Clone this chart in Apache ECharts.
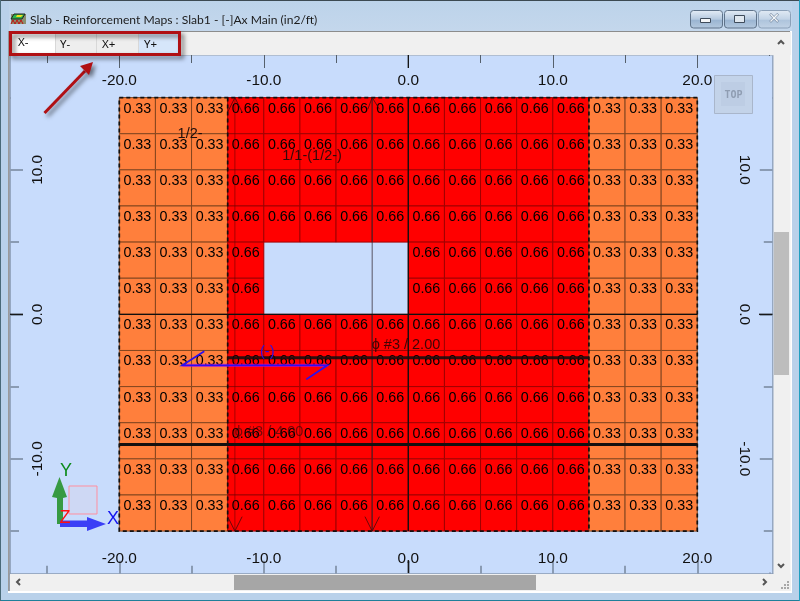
<!DOCTYPE html>
<html><head><meta charset="utf-8">
<style>html,body{margin:0;padding:0;background:#b9d1ea}#c{width:800px;height:601px}</style>
<script src="https://cdn.jsdelivr.net/npm/echarts@6/dist/echarts.min.js"></script>
</head><body><div id="c"></div>
<script>
// ---- data ----
const colEdges = [-20,-17.5,-15,-12.5,-10,-7.5,-5,-2.5,0,2.5,5,7.5,10,12.5,15,17.5,20];
const rowEdges = [15,12.5,10,7.5,5,2.5,0,-2.5,-5,-7.5,-10,-12.5,-15];
const solidRow = [0.33,0.33,0.33,0.66,0.66,0.66,0.66,0.66,0.66,0.66,0.66,0.66,0.66,0.33,0.33,0.33];
const holeRow  = [0.33,0.33,0.33,0.66,null,null,null,null,0.66,0.66,0.66,0.66,0.66,0.33,0.33,0.33];
const cellRows = [solidRow,solidRow,solidRow,solidRow,holeRow,holeRow,solidRow,solidRow,solidRow,solidRow,solidRow,solidRow];
const xTickValues = [-20,-10,0,10,20];
const yTickValues = [-10,0,10];
const dashedOutline = [[-20,15],[20,15],[20,-15],[-20,-15],[-20,15]];
const dashedLeft = [[-12.5,15],[-12.5,-15]];
const dashedRight = [[12.5,15],[12.5,-15]];
const zeroRowLine = [[-20,0],[20,0]];
const zeroColLine = [[0,15],[0,-15]];
const stripLineA = [[-12,15],[-12,-15]];
const stripLineB = [[-2.5,15],[-2.5,-15]];
const thickLineA = [[-12.5,-3],[12.5,-3]];
const thickLineB = [[-20,-9],[20,-9]];
const rebarLine = [[-14.12,-2.56],[-15.64,-3.53],[-5.6,-3.53],[-7.06,-4.5]];
const rebarGlow = [[-15.64,-3.53],[-5.6,-3.53]];
const hatTopA = [[-12.5,14],[-12,15],[-11.5,14]];
const hatTopB = [[-2.8,14.2],[-2.5,15],[-2,14.2]];
const hatBottomA = [[-12.5,-14],[-12,-15],[-11.5,-14]];
const hatBottomB = [[-3,-14],[-2.5,-15],[-2,-14]];
const annotationText = ['1/2-','1/1-(1/2-)','\u03d5 #3 / 2.00','\u03d5 #3 / 4.00','(-)'];
const annotationX = [-15.1,-6.66,-0.16,-9.63,-9.76];
const annotationY = [12.47,10.93,-2.13,-8.16,-2.63];
const annotationColor = ['rgba(20,10,10,.95)','rgba(30,10,10,.9)','rgba(30,5,5,.85)','rgba(50,10,10,.68)','#2a10e8'];
const tabLabels = ['X-','Y-','X+','Y+'];
const windowTitle = 'Slab - Reinforcement Maps : Slab1 - [-]Ax Main (in2/ft)';

// ---- styles / helpers ----
const FONT = '"Liberation Sans", Arial, sans-serif';
const cellColor = v => v > 0.5 ? '#ff0000' : '#ff7f3c';
const VIEW_BLUE = '#c8dcfc';
const cellData = [];
cellRows.forEach((row, r) => row.forEach((v, c) => {
  if (v !== null) cellData.push([colEdges[c], rowEdges[r], colEdges[c+1], rowEdges[r+1], v]);
}));

function lineSeries(points, color, width, dash, z) {
  return {type:'line', data:points, symbol:'none', silent:true, animation:false, clip:false, z:z||4,
          lineStyle:{color:color, width:width, type:dash||'solid', cap:'butt', join:'miter'}};
}
function xAxisOf(pos, offset, margin, tickColor, tickWidth, lineColor) {
  return {type:'value', min:-30, max:30, interval:10, position:pos, offset:offset,
    axisLine:{show:true, onZero:false, lineStyle:{color:lineColor, width:1.6}},
    axisTick:{show:true, inside:true, length:13, lineStyle:{color:tickColor, width:tickWidth}},
    minorTick:{show:true, splitNumber:2, length:8, lineStyle:{color:tickColor, width:tickWidth}},
    splitLine:{show:false}, minorSplitLine:{show:false},
    axisLabel:{show:true, inside:true, margin:margin, customValues:xTickValues, color:'#111',
      fontFamily:FONT, fontSize:15.4, formatter:v=>v.toFixed(1)}};
}
function yAxisOf(pos, offset, margin, rotate) {
  return {type:'value', min:-20, max:20, interval:10, position:pos, offset:offset,
    axisLine:{show:true, onZero:false, lineStyle:{color:'#8a9bb3', width:1.6}},
    axisTick:{show:true, inside:true, length:13, lineStyle:{color:'#8a9bb3', width:2}},
    minorTick:{show:true, splitNumber:2, length:9, lineStyle:{color:'#8a9bb3', width:2}},
    splitLine:{show:false}, minorSplitLine:{show:false},
    axisLabel:{show:true, inside:true, rotate:rotate, margin:margin, customValues:yTickValues, color:'#111',
      fontFamily:FONT, fontSize:15.4, formatter:v=>v.toFixed(1)}};
}
const rect = (x,y,w,h,fill,extra) => Object.assign({type:'rect', silent:true, z:100, shape:{x,y,width:w,height:h}, style:{fill}}, extra||{});
const poly = (pts,style,z) => ({type:'polyline', silent:true, z:z||101, shape:{points:pts}, style:Object.assign({fill:null},style)});
const pgon = (pts,fill,z,extra) => ({type:'polygon', silent:true, z:z||101, shape:{points:pts}, style:Object.assign({fill},extra||{})});
const txt = (x,y,t,font,fill,z,align) => ({type:'text', silent:true, z:z||102, x, y, style:{text:t, font, fill, textAlign:align||'left', textVerticalAlign:'middle', align:align||'left', verticalAlign:'middle'}});
const vGrad = (a,b,c) => ({type:'linear',x:0,y:0,x2:0,y2:1,colorStops:[{offset:0,color:a},{offset:.5,color:b},{offset:.55,color:c},{offset:1,color:b}]});

const chrome = [];
// window frame around the view
chrome.push(rect(0,0,800,31,{type:'linear',x:0,y:0,x2:0,y2:1,colorStops:[{offset:0,color:'#bcd3ea'},{offset:1,color:'#c4d7ec'}]}));
chrome.push(rect(0,0,9,601,'#b9d1ea'));
chrome.push(rect(792,0,8,601,'#b9d1ea'));
chrome.push(rect(0,593,800,8,'#b9d1ea'));
chrome.push(rect(0,0,800,1,'#3c4a52'));
chrome.push(rect(0,600,800,1,'#1f7f9a'));
chrome.push(rect(0,0,1,601,'#4a6a78'));
chrome.push(rect(799,0,1,601,'#1f9fc0'));
// client edge
chrome.push(rect(8,31,784,1.5,'#8c8c8c'));
chrome.push(rect(8,31,1.5,562,'#9a9a9a'));
chrome.push(rect(790,31,2,562,'#ffffff'));
chrome.push(rect(8,591,784,2,'#ffffff'));
// tab strip
chrome.push(rect(10,32,781,23,'#f0f0f0'));
chrome.push(rect(13,34,42,20,'#ffffff'));
chrome.push(rect(55,34,41,20,'#eeeeee'));
chrome.push(rect(96,34,42,20,'#eeeeee'));
chrome.push(rect(138,34,42,20,'#d6e6fa'));
chrome.push(rect(55,34,1,20,'#d8d8d8'));
chrome.push(rect(96,34,1,20,'#d8d8d8'));
chrome.push(rect(138,34,1,20,'#d8d8d8'));
tabLabels.forEach((t,i)=>chrome.push(txt([18,60,102,144][i],[43,45,45,45][i],t,'11.5px "Noto Sans", sans-serif','#111',103)));
// scrollbars
chrome.push(rect(773.5,55,17,536,'#f0f0f0'));
chrome.push(rect(10,574,781,17,'#f0f0f0'));
chrome.push(rect(774,232,15,143,'#bdbdbd'));
chrome.push(rect(234,575,302,15,'#a6a6a6'));
chrome.push(poly([[778,44],[781,41],[784,44]],{stroke:'#555',lineWidth:2}));
chrome.push(poly([[778,564],[781,567],[784,564]],{stroke:'#555',lineWidth:2}));
chrome.push(poly([[20,579],[17,582],[20,585]],{stroke:'#555',lineWidth:2}));
chrome.push(poly([[763,579],[766,582],[763,585]],{stroke:'#555',lineWidth:2}));
[[787,581],[784,584],[787,584],[781,587],[784,587],[787,587]].forEach(p=>chrome.push(rect(p[0],p[1],2,2,'#a8a8a8',{z:101})));
// ticks the reference does not draw at the view's far ends
chrome.push(rect(11,94,11,7,VIEW_BLUE,{z:40}),rect(761,94,11,7,VIEW_BLUE,{z:40}),rect(766,56,6,10,VIEW_BLUE,{z:40}),rect(766,562,6,10.5,VIEW_BLUE,{z:40}));
// title bar
chrome.push(txt(30,20,windowTitle,'12.1px Lato, sans-serif','#1c1c1c',103));
chrome.push(rect(11,14,15,10,'#8a8f70',{z:101}));
chrome.push(pgon([[14,14],[25,14],[22,19],[11,19]],'#2db34a',102,{stroke:'#222',lineWidth:1}));
chrome.push(pgon([[17,15],[23,15],[21,17],[16,17]],'#f0e020',103));
chrome.push(poly([[11,24],[13,20],[15,24],[17,20],[19,24],[21,20],[23,24]],{stroke:'#c01010',lineWidth:1},103));
[[690,'#e6eef7','#b5c9df','#9ab5d2'],[724,'#e6eef7','#b5c9df','#9ab5d2'],[758,'#e2ebf5','#c2d3e6','#aec4dc']].forEach((b,i)=>{
  chrome.push(rect(b[0]+.5,10.5,32,17.5,vGrad(b[1],b[2],b[3]),{z:101,shape:{x:b[0]+.5,y:10.5,width:32,height:17.5,r:3},style:{fill:vGrad(b[1],b[2],b[3]),stroke:i<2?'#5f738a':'#8ba0b8',lineWidth:1}}));
});
chrome.push(rect(700.5,18.5,10,4,'#f4f6f8',{z:102,style:{fill:'#f4f6f8',stroke:'#3e4b5a',lineWidth:1}}));
chrome.push(rect(734.5,15.5,10,7,'#f4f6f8',{z:102,style:{fill:'#dfe7ef',stroke:'#3e4b5a',lineWidth:1}}));
chrome.push({type:'text',silent:true,z:103,x:774,y:19,style:{text:'\u2715',font:'bold 14px "DejaVu Sans", sans-serif',fill:'#f2f5f8',stroke:'#6d8099',lineWidth:1,align:'center',verticalAlign:'middle'}});
// red call-out
chrome.push({type:'rect',silent:true,z:104,shape:{x:10.5,y:32.5,width:169,height:22},style:{fill:null,stroke:'#b01014',lineWidth:3,shadowColor:'rgba(0,0,0,.5)',shadowBlur:4,shadowOffsetX:3,shadowOffsetY:3}});
chrome.push({type:'line',silent:true,z:104,shape:{x1:44.5,y1:113,x2:85,y2:71},style:{stroke:'#b01014',lineWidth:3,shadowColor:'rgba(0,0,0,.5)',shadowBlur:4,shadowOffsetX:3,shadowOffsetY:3}});
chrome.push(pgon([[93,62],[80,66],[89,75]],'#b01014',104,{shadowColor:'rgba(0,0,0,.5)',shadowBlur:4,shadowOffsetX:3,shadowOffsetY:3}));
// TOP cube
chrome.push({type:'rect',silent:true,z:60,shape:{x:714.5,y:75.5,width:38,height:38},style:{fill:'#c3d3e9',stroke:'#a9b6cb',lineWidth:1}});
chrome.push(rect(721,82,24,24,'#bdcde4',{z:61}));
chrome.push(txt(733.5,95,'TOP','bold 10px "DejaVu Sans Mono", monospace','#8f9db2',62,'center'));
// triad
chrome.push({type:'rect',silent:true,z:60,shape:{x:69,y:486,width:28,height:28},style:{fill:'rgba(255,190,190,.12)',stroke:'#ff8f9f',lineWidth:1}});
chrome.push(pgon([[57,524],[57,498],[52,497],[59.5,477],[67,497],[63,498],[63,524]],'#379a42',61));
chrome.push(pgon([[60,520.5],[87,520.5],[87,517],[106,524],[87,531],[87,527],[60,527]],'#3b3ff6',62));
chrome.push(txt(66,471.5,'Y','18px "Liberation Sans", sans-serif','#0b8a1a',63,'center'));
chrome.push(txt(113,519,'X','18px "Liberation Sans", sans-serif','#1414f0',63,'center'));
chrome.push(txt(65,518,'Z','18px "Liberation Sans", sans-serif','#ff1010',63,'center'));
const zeroTick = (x1,y1,x2,y2)=>({type:'line',silent:true,z:50,shape:{x1,y1,x2,y2},style:{stroke:'#111',lineWidth:1.3}});
chrome.push(zeroTick(408.3,55,408.3,68),zeroTick(408.3,560,408.3,573),zeroTick(10,314.3,23,314.3),zeroTick(759,314.3,772.5,314.3));

const option = {
  backgroundColor: VIEW_BLUE,
  animation:false,
  grid:{left:-25.2, top:25.35, width:867, height:578, containLabel:false, outerBoundsMode:'none'},
  xAxis:[
    xAxisOf('bottom',-29.6,8,'#8a9bb3',2,'#8a9bb3'),
    xAxisOf('top',-29.65,18,'#55606c',1,'#a8b4c4')
  ],
  yAxis:[
    yAxisOf('left',-35.2,20,90),
    yAxisOf('right',-69,21,-90)
  ],
  graphic:{elements:chrome},
  series:[
    {type:'custom', data:cellData, silent:true, animation:false, clip:false, z:2,
     encode:{x:[0,2],y:[1,3]},
     renderItem:(p,api)=>{
       const a=api.coord([api.value(0),api.value(1)]), b=api.coord([api.value(2),api.value(3)]);
       const v=api.value(4);
       return {type:'group',children:[
         {type:'rect',shape:{x:a[0],y:a[1],width:b[0]-a[0],height:b[1]-a[1]},
          style:{fill:cellColor(v),stroke:v>0.5?'#a00000':'#84461f',lineWidth:1}},
         {type:'text',x:(a[0]+b[0])/2,y:a[1]+11,
          style:{text:v.toFixed(2),font:'14.3px '+FONT,fill:'#000000',textAlign:'center',textVerticalAlign:'middle',align:'center',verticalAlign:'middle'}}
       ]};
     }},
    lineSeries(stripLineA,'rgba(110,0,0,.6)',1),
    lineSeries(stripLineB,'rgba(50,40,50,.75)',1),
    lineSeries(zeroRowLine,'#101010',1.3),
    lineSeries(zeroColLine,'#101010',1.3),
    lineSeries(dashedOutline,'#111111',1.7,[4,3]),
    lineSeries(dashedLeft,'#111111',1.7,[4,3]),
    lineSeries(dashedRight,'#111111',1.7,[4,3]),
    lineSeries(thickLineA,'rgba(20,15,15,.88)',3),
    lineSeries(thickLineB,'#141010',3),
    lineSeries(hatTopA,'rgba(70,10,10,.8)',1),
    lineSeries(hatTopB,'rgba(70,10,10,.8)',1),
    lineSeries(hatBottomA,'rgba(70,10,10,.8)',1),
    lineSeries(hatBottomB,'rgba(70,10,10,.8)',1),
    lineSeries(rebarGlow,'rgba(230,0,230,.55)',3.4,'solid',5),
    lineSeries(rebarLine,'#2a10f0',1.8,'solid',6),
    {type:'custom', data:annotationText.map((t,i)=>[annotationX[i],annotationY[i]]), silent:true, animation:false, clip:false, z:7,
     encode:{x:0,y:1},
     renderItem:(p,api)=>{
       const c=api.coord([api.value(0),api.value(1)]);
       return {type:'text',x:c[0],y:c[1],style:{text:annotationText[p.dataIndex],font:'14.5px '+FONT,fill:annotationColor[p.dataIndex],
         textAlign:'center',textVerticalAlign:'middle',align:'center',verticalAlign:'middle'}};
     }}
  ]
};
echarts.init(document.getElementById('c'),null,{renderer:'canvas'}).setOption(option);
</script></body></html>
